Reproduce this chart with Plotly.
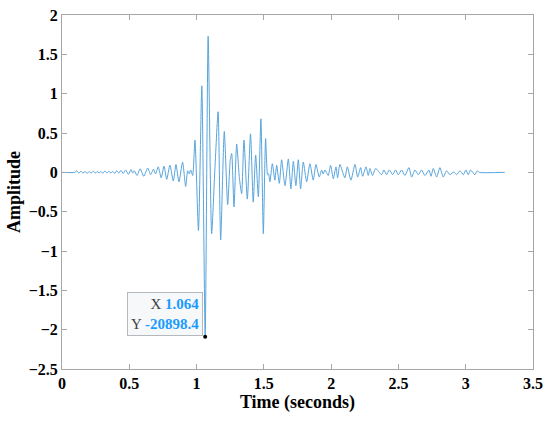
import plotly.graph_objects as go

# turning points of the trace (time in s, amplitude)
times = [
    0.000, 0.095, 0.110, 0.125, 0.141, 0.156, 0.171, 0.186, 0.201, 0.217,
    0.233, 0.248, 0.262, 0.275, 0.287, 0.303, 0.319, 0.334, 0.349, 0.363,
    0.377, 0.392, 0.406, 0.422, 0.438, 0.455, 0.473, 0.493, 0.513, 0.525,
    0.537, 0.558, 0.580, 0.608, 0.637, 0.658, 0.680, 0.695, 0.715, 0.737,
    0.758, 0.778, 0.802, 0.827, 0.847, 0.869, 0.896, 0.919, 0.934, 0.946,
    0.956, 0.971, 0.988, 1.014, 1.039, 1.064, 1.086, 1.112, 1.135, 1.160,
    1.179, 1.206, 1.231, 1.250, 1.261, 1.278, 1.298, 1.318, 1.335, 1.352,
    1.377, 1.401, 1.421, 1.439, 1.459, 1.478, 1.496, 1.513, 1.528, 1.535,
    1.545, 1.563, 1.582, 1.595, 1.615, 1.632, 1.657, 1.682, 1.701, 1.719,
    1.738, 1.756, 1.773, 1.793, 1.818, 1.842, 1.867, 1.887, 1.912, 1.929,
    1.941, 1.954, 1.978, 1.996, 2.016, 2.036, 2.048, 2.065, 2.102, 2.120,
    2.147, 2.177, 2.197, 2.219, 2.234, 2.259, 2.276, 2.288, 2.308, 2.331,
    2.375, 2.392, 2.412, 2.432, 2.457, 2.479, 2.499, 2.524, 2.548, 2.578,
    2.598, 2.623, 2.648, 2.672, 2.697, 2.727, 2.742, 2.759, 2.784, 2.808,
    2.833, 2.858, 2.883, 2.912, 2.932, 2.957, 2.982, 3.001, 3.019, 3.036,
    3.068, 3.086, 3.100, 3.290,
]
amps = [
    0.000, 0.000, 0.020, -0.010, 0.015, -0.012, 0.012, -0.015, 0.010, -0.010,
    0.015, -0.010, 0.012, -0.012, 0.012, -0.012, 0.018, -0.010, 0.015, -0.012,
    0.012, -0.015, 0.020, -0.010, 0.025, -0.015, 0.030, -0.025, 0.035, -0.010,
    0.020, -0.040, 0.045, -0.050, 0.055, -0.030, 0.040, -0.020, 0.070, -0.070,
    0.080, -0.090, 0.090, -0.110, 0.100, -0.120, 0.130, -0.180, 0.020, -0.020,
    0.030, -0.040, 0.410, -0.740, 1.100, -2.090, 1.730, -0.780, 0.000, 0.770,
    -0.860, 0.520, -0.410, 0.150, 0.240, -0.440, 0.360, -0.070, -0.270, 0.410,
    -0.340, 0.490, -0.380, 0.220, -0.310, 0.680, -0.780, 0.430, -0.030, -0.020,
    -0.120, 0.110, -0.100, 0.090, -0.140, 0.160, -0.170, 0.170, -0.210, 0.140,
    -0.170, 0.160, -0.210, 0.130, -0.120, 0.110, -0.100, 0.100, -0.060, 0.030,
    -0.020, 0.030, -0.040, 0.090, -0.080, 0.070, -0.070, 0.100, -0.070, 0.070,
    -0.100, 0.100, -0.060, 0.060, -0.050, 0.070, -0.040, 0.050, -0.040, 0.050,
    -0.030, 0.030, -0.030, 0.030, -0.030, 0.030, -0.030, 0.030, -0.040, 0.060,
    -0.060, 0.030, -0.030, 0.030, -0.040, 0.030, -0.050, 0.050, -0.060, 0.060,
    -0.060, 0.020, -0.030, 0.005, -0.030, 0.020, -0.030, 0.030, -0.030, 0.030,
    -0.030, 0.020, 0.000, 0.000,
]

# data tip
tip_x = 1.064
tip_y = -2.0898
tip_label_y = "-20898.4"

x_ticks = [0, 0.5, 1, 1.5, 2, 2.5, 3, 3.5]
y_ticks = [-2.5, -2, -1.5, -1, -0.5, 0, 0.5, 1, 1.5, 2]

serif = "Liberation Serif"

fig = go.Figure()
fig.add_trace(go.Scatter(
    x=times, y=amps, mode="lines",
    line=dict(color="#57a4dc", width=1, shape="spline", smoothing=0.6),
    showlegend=False, hoverinfo="skip",
))
fig.add_trace(go.Scatter(
    x=[tip_x], y=[tip_y], mode="markers",
    marker=dict(color="black", size=4),
    showlegend=False,
))

fig.add_annotation(
    x=tip_x, y=tip_y, xref="x", yref="y",
    xanchor="right", yanchor="bottom", xshift=-2, yshift=1,
    showarrow=False, align="right",
    text=("<span style='color:#404040'>X</span> <b>%s</b><br>"
          "<span style='color:#404040'>Y</span> <b>%s</b>") % (tip_x, tip_label_y),
    font=dict(family=serif, size=15, color="#1a9bff"),
    bgcolor="#f7f8fa", bordercolor="#b4b8bf", borderwidth=1, borderpad=3,
)

axis_common = dict(
    showgrid=False, zeroline=False, showline=True, linecolor="#a6a6a6",
    linewidth=1, mirror="ticks", ticks="inside", ticklen=5,
    tickcolor="#a6a6a6", automargin=False,
    tickfont=dict(family=serif, size=16, color="black", weight="bold"),
)

fig.update_layout(
    width=550, height=422,
    margin=dict(l=62, r=17, t=15, b=53),
    paper_bgcolor="white", plot_bgcolor="white",
    xaxis=dict(range=[0, 3.5], tickvals=x_ticks,
               title=dict(text="<b>Time (seconds)</b>", standoff=3,
                          font=dict(family=serif, size=18, color="black")),
               **axis_common),
    yaxis=dict(range=[-2.5, 2], tickvals=y_ticks,
               title=dict(text="<b>Amplitude</b>", standoff=3,
                          font=dict(family=serif, size=18, color="black")),
               **axis_common),
)

fig.write_html("out.html", config={"displayModeBar": False},
               post_script="document.body.style.margin='0';")
